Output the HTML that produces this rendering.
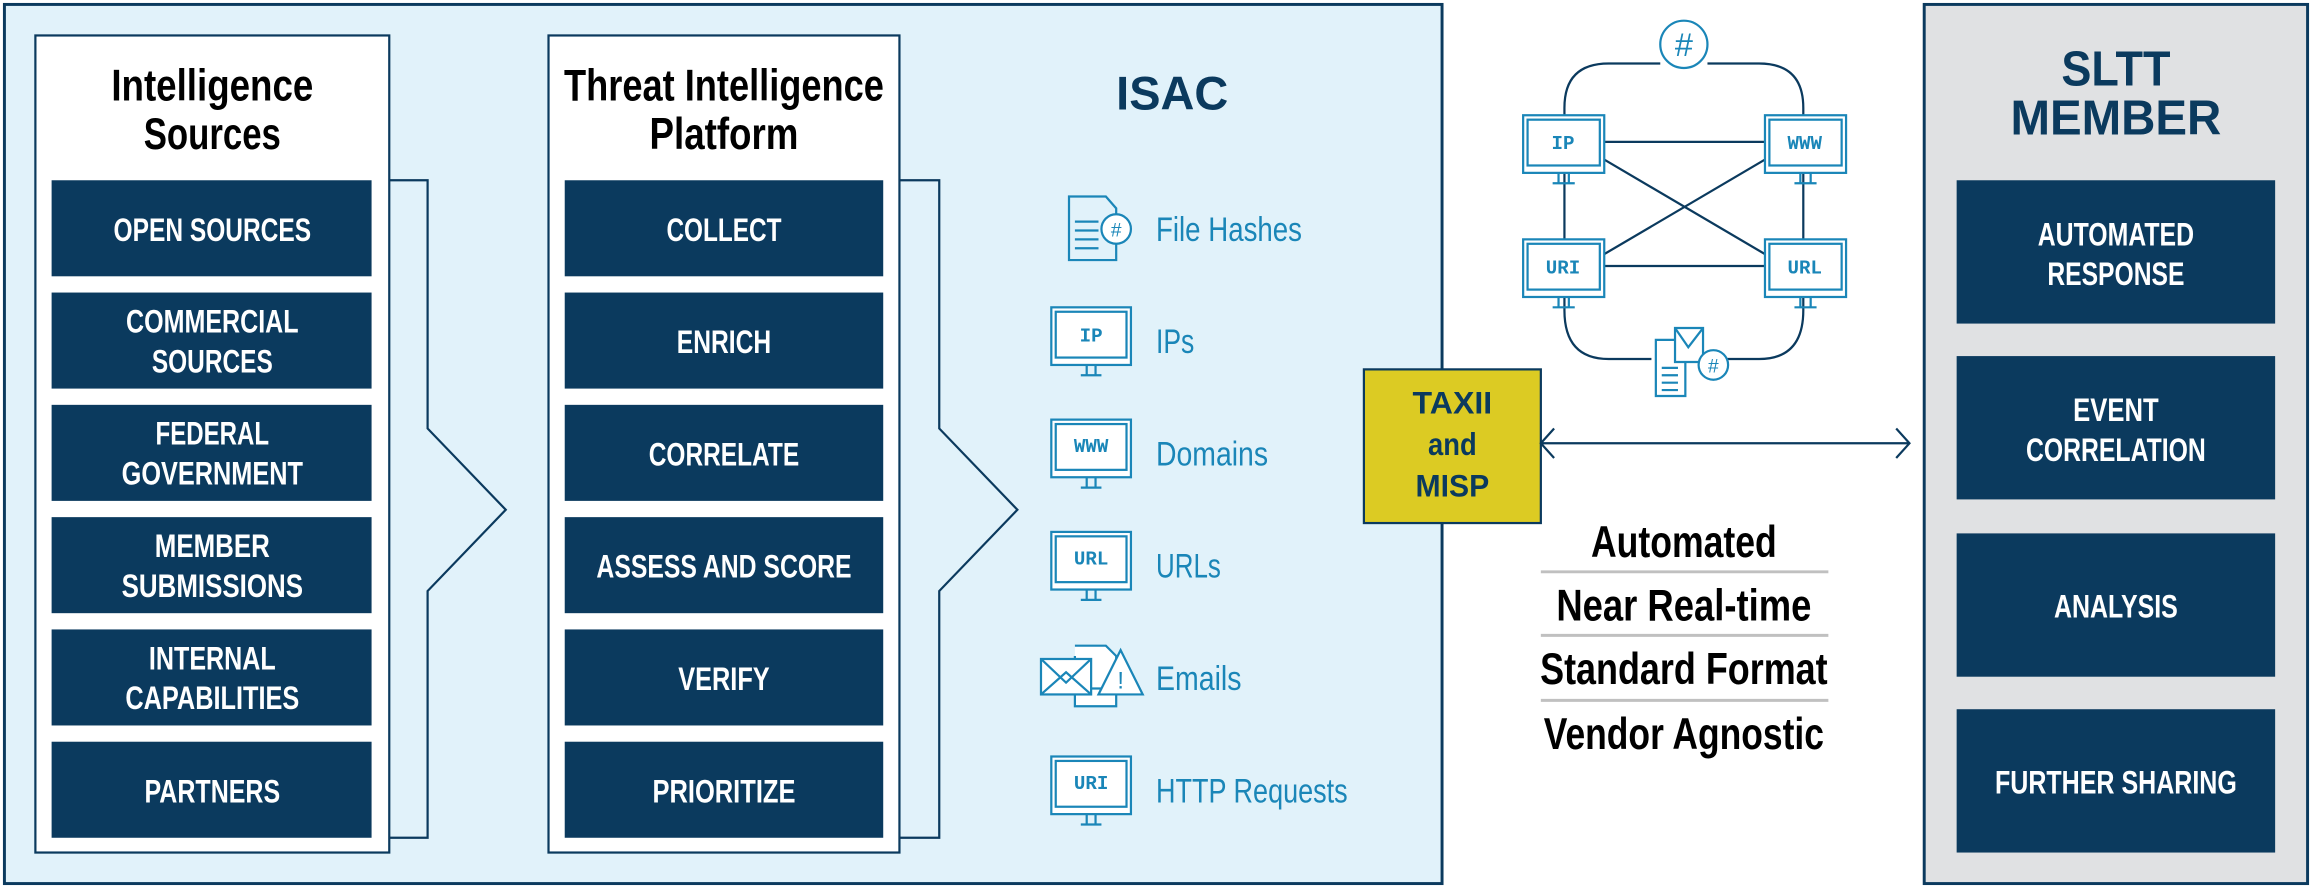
<!DOCTYPE html>
<html><head><meta charset="utf-8"><style>
html,body{margin:0;padding:0;background:#fff;}
svg{display:block;}
text{font-family:"Liberation Sans Narrow","Liberation Sans",sans-serif;font-weight:bold;}
.w{fill:#fff;font-size:22px;text-anchor:middle;}
.t{fill:#000;font-size:30px;text-anchor:middle;}
.b{fill:#1a86b8;font-size:23px;font-weight:normal;}
.m{fill:#1a86b8;font-size:13px;text-anchor:middle;font-family:"Liberation Mono",monospace;}
</style></head><body>
<svg width="2312" height="888" viewBox="0 0 1568 601" preserveAspectRatio="none" xmlns="http://www.w3.org/2000/svg">
<rect x="3" y="3" width="975" height="595" fill="#e1f2fa" stroke="#0b3a5e" stroke-width="2"/>
<rect x="1305" y="3" width="260" height="595" fill="#e0e1e3" stroke="#0b3a5e" stroke-width="2"/>

<rect x="24" y="24" width="240" height="553" fill="#fff" stroke="#0b3a5e" stroke-width="1.5"/>
<text class="t" x="144" y="68" textLength="137" lengthAdjust="spacingAndGlyphs">Intelligence</text>
<text class="t" x="144" y="101" textLength="93" lengthAdjust="spacingAndGlyphs">Sources</text>
<g fill="#0b3a5e">
<rect x="35" y="122" width="217" height="65"/><rect x="35" y="198" width="217" height="65"/>
<rect x="35" y="274" width="217" height="65"/><rect x="35" y="350" width="217" height="65"/>
<rect x="35" y="426" width="217" height="65"/><rect x="35" y="502" width="217" height="65"/>
</g>
<text class="w" x="144" y="163" textLength="134" lengthAdjust="spacingAndGlyphs">OPEN SOURCES</text>
<text class="w" x="144" y="225" textLength="117" lengthAdjust="spacingAndGlyphs">COMMERCIAL</text><text class="w" x="144" y="252" textLength="82" lengthAdjust="spacingAndGlyphs">SOURCES</text>
<text class="w" x="144" y="301" textLength="77" lengthAdjust="spacingAndGlyphs">FEDERAL</text><text class="w" x="144" y="328" textLength="123" lengthAdjust="spacingAndGlyphs">GOVERNMENT</text>
<text class="w" x="144" y="377" textLength="78" lengthAdjust="spacingAndGlyphs">MEMBER</text><text class="w" x="144" y="404" textLength="123" lengthAdjust="spacingAndGlyphs">SUBMISSIONS</text>
<text class="w" x="144" y="453" textLength="86" lengthAdjust="spacingAndGlyphs">INTERNAL</text><text class="w" x="144" y="480" textLength="118" lengthAdjust="spacingAndGlyphs">CAPABILITIES</text>
<text class="w" x="144" y="543" textLength="92" lengthAdjust="spacingAndGlyphs">PARTNERS</text>
<path d="M264 122 H290 V290 L343 345 L290 400 V567 H264" fill="none" stroke="#0b3a5e" stroke-width="1.5"/>

<rect x="372" y="24" width="238" height="553" fill="#fff" stroke="#0b3a5e" stroke-width="1.5"/>
<text class="t" x="491" y="68" textLength="217" lengthAdjust="spacingAndGlyphs">Threat Intelligence</text>
<text class="t" x="491" y="101" textLength="101" lengthAdjust="spacingAndGlyphs">Platform</text>
<g fill="#0b3a5e">
<rect x="383" y="122" width="216" height="65"/><rect x="383" y="198" width="216" height="65"/>
<rect x="383" y="274" width="216" height="65"/><rect x="383" y="350" width="216" height="65"/>
<rect x="383" y="426" width="216" height="65"/><rect x="383" y="502" width="216" height="65"/>
</g>
<text class="w" x="491" y="163" textLength="78" lengthAdjust="spacingAndGlyphs">COLLECT</text>
<text class="w" x="491" y="239" textLength="64" lengthAdjust="spacingAndGlyphs">ENRICH</text>
<text class="w" x="491" y="315" textLength="102" lengthAdjust="spacingAndGlyphs">CORRELATE</text>
<text class="w" x="491" y="391" textLength="173" lengthAdjust="spacingAndGlyphs">ASSESS AND SCORE</text>
<text class="w" x="491" y="467" textLength="62" lengthAdjust="spacingAndGlyphs">VERIFY</text>
<text class="w" x="491" y="543" textLength="97" lengthAdjust="spacingAndGlyphs">PRIORITIZE</text>
<path d="M610 122 H637 V290 L690 345 L637 400 V567 H610" fill="none" stroke="#0b3a5e" stroke-width="1.5"/>

<text x="795" y="74" style="fill:#0b3a5e;font-size:32px;text-anchor:middle;" textLength="76" lengthAdjust="spacingAndGlyphs">ISAC</text>
<g fill="none" stroke="#1a86b8" stroke-width="1.5">
<path d="M725 133 H750 L757 141 V176 H725 Z"/>
<path d="M729 150 H745 M729 156 H745 M729 162 H745 M729 168 H745"/>
<circle cx="757" cy="155" r="10" fill="#fff"/>
</g>
<text x="757" y="160" style="fill:#1a86b8;font-size:13px;text-anchor:middle;font-weight:normal;">#</text>
<text class="b" x="784" y="163" textLength="99" lengthAdjust="spacingAndGlyphs">File Hashes</text>

<g fill="none" stroke="#1a86b8" stroke-width="1.5">
<rect x="713" y="208" width="54" height="39" fill="#fff"/><rect x="716" y="211" width="48" height="31"/>
<path d="M737 247 V254 M743 247 V254 M733 254 H747"/>
<rect x="713" y="284" width="54" height="39" fill="#fff"/><rect x="716" y="287" width="48" height="31"/>
<path d="M737 323 V330 M743 323 V330 M733 330 H747"/>
<rect x="713" y="360" width="54" height="39" fill="#fff"/><rect x="716" y="363" width="48" height="31"/>
<path d="M737 399 V406 M743 399 V406 M733 406 H747"/>
<rect x="713" y="512" width="54" height="39" fill="#fff"/><rect x="716" y="515" width="48" height="31"/>
<path d="M737 551 V558 M743 551 V558 M733 558 H747"/>
</g>
<text class="m" x="740" y="231">IP</text><text class="b" x="784" y="239" textLength="26" lengthAdjust="spacingAndGlyphs">IPs</text>
<text class="m" x="740" y="306">WWW</text><text class="b" x="784" y="315" textLength="76" lengthAdjust="spacingAndGlyphs">Domains</text>
<text class="m" x="740" y="382">URL</text><text class="b" x="784" y="391" textLength="44" lengthAdjust="spacingAndGlyphs">URLs</text>
<text class="m" x="740" y="534">URI</text><text class="b" x="784" y="543" textLength="130" lengthAdjust="spacingAndGlyphs">HTTP Requests</text>

<g fill="none" stroke="#1a86b8" stroke-width="1.5">
<path d="M729 444 V478 H757 V444 L750 437 H729" fill="#fff"/>
<path d="M733 466 H752"/>
<rect x="706" y="446" width="34" height="24" fill="#fff"/>
<path d="M706 446 L723 462 L740 446 M706 470 L723 455 L740 470"/>
<path d="M760 440 L775 470 H745 Z" fill="#fff"/>
</g>
<text x="760" y="466" style="fill:#1a86b8;font-size:16px;text-anchor:middle;font-weight:normal;">!</text>
<text class="b" x="784" y="467" textLength="58" lengthAdjust="spacingAndGlyphs">Emails</text>

<g fill="none" stroke="#0b3a5e" stroke-width="1.5">
<path d="M1126 43 H1091 Q1061 43 1061 73 V210 Q1061 243 1091 243 H1120"/>
<path d="M1158 43 H1193 Q1223 43 1223 73 V210 Q1223 243 1193 243 H1170"/>
<path d="M1088 96 H1197 M1088 180 H1197 M1088 108 L1197 172 M1088 172 L1197 108"/>
</g>
<circle cx="1142" cy="30" r="16" fill="#fff" stroke="#1a86b8" stroke-width="1.5"/>
<text x="1142" y="38" style="fill:#1a86b8;font-size:22px;text-anchor:middle;font-weight:normal;">#</text>
<g fill="none" stroke="#1a86b8" stroke-width="1.5">
<rect x="1033" y="78" width="55" height="39" fill="#fff"/><rect x="1036" y="81" width="49" height="31"/>
<path d="M1057 117 V124 M1064 117 V124 M1053 124 H1068"/>
<rect x="1197" y="78" width="55" height="39" fill="#fff"/><rect x="1200" y="81" width="49" height="31"/>
<path d="M1221 117 V124 M1228 117 V124 M1217 124 H1232"/>
<rect x="1033" y="162" width="55" height="39" fill="#fff"/><rect x="1036" y="165" width="49" height="31"/>
<path d="M1057 201 V208 M1064 201 V208 M1053 208 H1068"/>
<rect x="1197" y="162" width="55" height="39" fill="#fff"/><rect x="1200" y="165" width="49" height="31"/>
<path d="M1221 201 V208 M1228 201 V208 M1217 208 H1232"/>
<path d="M1123 230 V268 H1143 V237 L1137 230 Z" fill="#fff"/>
<path d="M1127 249 H1138 M1127 254 H1138 M1127 259 H1138 M1127 264 H1138"/>
<path d="M1136 222 H1155 V245 H1136 Z M1136 222 L1145 235 L1155 222" fill="#fff"/>
<circle cx="1162" cy="247" r="10" fill="#fff"/>
</g>
<text x="1162" y="252" style="fill:#1a86b8;font-size:13px;text-anchor:middle;font-weight:normal;">#</text>
<text class="m" x="1060" y="101">IP</text><text class="m" x="1224" y="101">WWW</text>
<text class="m" x="1060" y="185">URI</text><text class="m" x="1224" y="185">URL</text>

<rect x="925" y="250" width="120" height="104" fill="#dccb23" stroke="#0b3a5e" stroke-width="1.5"/>
<text x="985" y="280" style="fill:#0b3a5e;font-size:21px;text-anchor:middle;" textLength="54" lengthAdjust="spacingAndGlyphs">TAXII</text>
<text x="985" y="308" style="fill:#0b3a5e;font-size:21px;text-anchor:middle;" textLength="33" lengthAdjust="spacingAndGlyphs">and</text>
<text x="985" y="336" style="fill:#0b3a5e;font-size:21px;text-anchor:middle;" textLength="50" lengthAdjust="spacingAndGlyphs">MISP</text>
<g fill="none" stroke="#0b3a5e" stroke-width="1.5">
<path d="M1045 300 H1295 M1054 290 L1045 300 L1054 310 M1286 290 L1295 300 L1286 310"/>
</g>

<text class="t" x="1142" y="377" textLength="126" lengthAdjust="spacingAndGlyphs">Automated</text>
<text class="t" x="1142" y="420" textLength="173" lengthAdjust="spacingAndGlyphs">Near Real-time</text>
<text class="t" x="1142" y="463" textLength="195" lengthAdjust="spacingAndGlyphs">Standard Format</text>
<text class="t" x="1142" y="507" textLength="190" lengthAdjust="spacingAndGlyphs">Vendor Agnostic</text>
<g stroke="#c0c0c0" stroke-width="2"><path d="M1045 387 H1240 M1045 430 H1240 M1045 474 H1240"/></g>

<text x="1435" y="58" style="fill:#0b3a5e;font-size:33px;text-anchor:middle;" textLength="74" lengthAdjust="spacingAndGlyphs">SLTT</text>
<text x="1435" y="91" style="fill:#0b3a5e;font-size:33px;text-anchor:middle;" textLength="143" lengthAdjust="spacingAndGlyphs">MEMBER</text>
<g fill="#0b3a5e">
<rect x="1327" y="122" width="216" height="97"/><rect x="1327" y="241" width="216" height="97"/>
<rect x="1327" y="361" width="216" height="97"/><rect x="1327" y="480" width="216" height="97"/>
</g>
<text class="w" x="1435" y="166" textLength="106" lengthAdjust="spacingAndGlyphs">AUTOMATED</text><text class="w" x="1435" y="193" textLength="93" lengthAdjust="spacingAndGlyphs">RESPONSE</text>
<text class="w" x="1435" y="285" textLength="58" lengthAdjust="spacingAndGlyphs">EVENT</text><text class="w" x="1435" y="312" textLength="122" lengthAdjust="spacingAndGlyphs">CORRELATION</text>
<text class="w" x="1435" y="418" textLength="84" lengthAdjust="spacingAndGlyphs">ANALYSIS</text>
<text class="w" x="1435" y="537" textLength="164" lengthAdjust="spacingAndGlyphs">FURTHER SHARING</text>
</svg>
</body></html>
